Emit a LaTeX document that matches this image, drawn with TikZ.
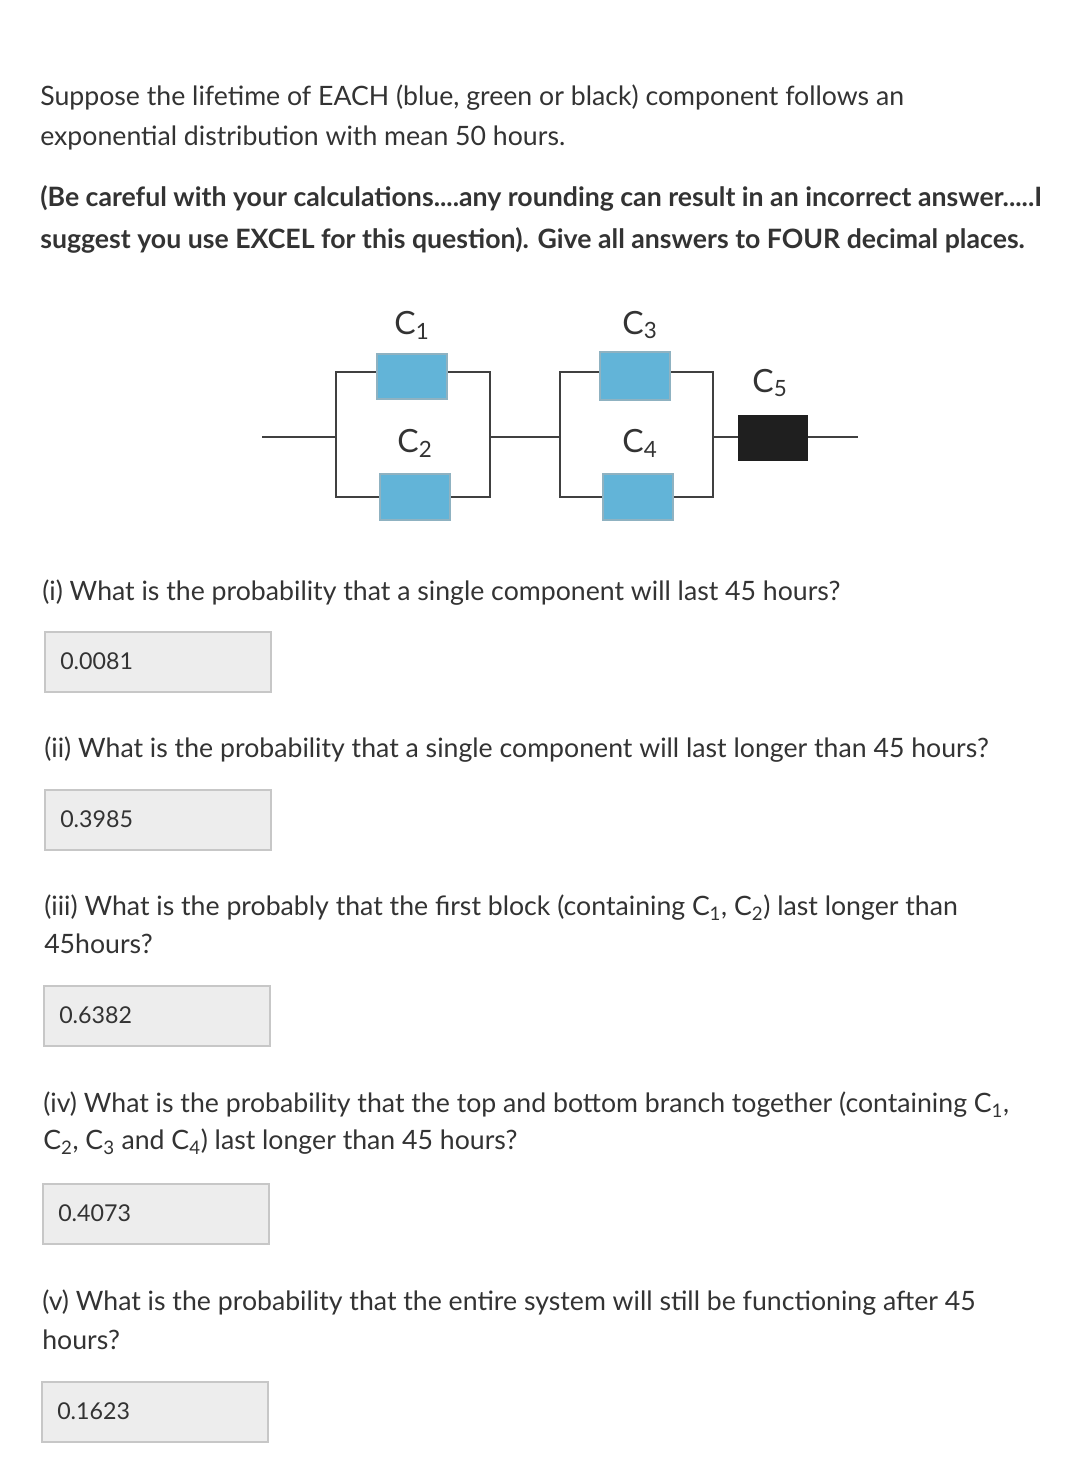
\documentclass[tikz,border=0pt]{standalone}
\usepackage{fontspec}
\setmainfont{Lato}
\definecolor{compc}{HTML}{62B4D8}
\begin{document}
\begin{tikzpicture}[x=0.75pt,y=-0.75pt,
  txt/.style={anchor=west,inner sep=0pt,font=\fontsize{20}{24}\selectfont,text=black!80},
  btxt/.style={txt,font=\fontsize{20}{24}\selectfont\bfseries},
  ans/.style={draw=black!22,fill=black!7,line width=1pt},
  anst/.style={anchor=west,inner sep=0pt,font=\fontsize{17.4}{20}\selectfont,text=black!80},
  comp/.style={fill=compc,draw=compc!70!black!60,line width=0.8pt},
  wire/.style={draw=black!75,line width=1.3pt},
  clab/.style={font=\fontsize{24}{26}\selectfont,text=black!80}]
\useasboundingbox (0,0) rectangle (1080,1460);
\fill[white] (0,0) rectangle (1080,1460);
\node[txt] (t1) at (40,98) {Suppose the lifetime of EACH (blue, green or black) component follows an};
\node[txt] (t2) at (40,138) {exponential distribution with mean 50 hours.};
\node[btxt] (t3) at (40,198) {(Be careful with your calculations....any rounding can result in an incorrect answer.....I};
\node[btxt] (t4) at (40,240) {suggest you use EXCEL for this question). Give all answers to FOUR decimal places.};
% diagram
\draw[wire] (262,437) -- (336,437);
\draw[wire] (447,372) -- (490,372) -- (490,497) -- (450,497);
\draw[wire] (377,372) -- (336,372) -- (336,497) -- (380,497);
\draw[wire] (490,437) -- (560,437);
\draw[wire] (600,372) -- (560,372) -- (560,497) -- (603,497);
\draw[wire] (670,372) -- (713,372) -- (713,497) -- (673,497);
\draw[wire] (713,437) -- (738,437);
\draw[wire] (808,437) -- (858,437);
\draw[comp] (377,354) rectangle (447,399);
\draw[comp] (380,474) rectangle (450,520);
\draw[comp] (600,352) rectangle (670,400);
\draw[comp] (603,474) rectangle (673,520);
\fill[black!88] (738,415) rectangle (808,461);
\node[clab] (c1) at (412,325) {C\textsubscript{1}};
\node[clab] (c3) at (640,325) {C\textsubscript{3}};
\node[clab] (c5) at (770,383) {C\textsubscript{5}};
\node[clab] (c2) at (415,443) {C\textsubscript{2}};
\node[clab] (c4) at (640,443) {C\textsubscript{4}};
% questions
\node[txt] (q1) at (42,593) {(i) What is the probability that a single component will last 45 hours?};
\draw[ans] (45,632) rectangle (271,692); \node[anst] (a1) at (60,661) {0.0081};
\node[txt] (q2) at (44,750) {(ii) What is the probability that a single component will last longer than 45 hours?};
\draw[ans] (45,790) rectangle (271,850); \node[anst] (a2) at (60,819) {0.3985};
\node[txt] (q3) at (44,908) {(iii) What is the probably that the first block (containing C\textsubscript{1}, C\textsubscript{2}) last longer than};
\node[txt] (q3b) at (44,944) {45hours?};
\draw[ans] (44,986) rectangle (270,1046); \node[anst] (a3) at (59,1015) {0.6382};
\node[txt] (q4) at (43,1105) {(iv) What is the probability that the top and bottom branch together (containing C\textsubscript{1},};
\node[txt] (q4b) at (43,1142) {C\textsubscript{2}, C\textsubscript{3} and C\textsubscript{4}) last longer than 45 hours?};
\draw[ans] (43,1184) rectangle (269,1244); \node[anst] (a4) at (58,1213) {0.4073};
\node[txt] (q5) at (42,1303) {(v) What is the probability that the entire system will still be functioning after 45};
\node[txt] (q5b) at (42,1340) {hours?};
\draw[ans] (42,1382) rectangle (268,1442); \node[anst] (a5) at (57,1411) {0.1623};
\end{tikzpicture}
\end{document}
